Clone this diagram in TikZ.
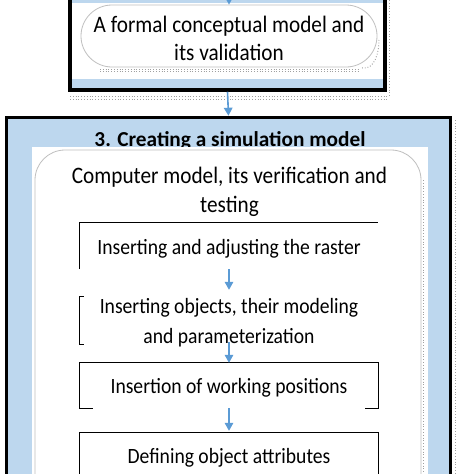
\documentclass[tikz,border=0pt]{standalone}
\usepackage{fontspec}
\setmainfont[FakeStretch=0.9]{Carlito}
\newfontfamily\titlefont{Carlito}
\usetikzlibrary{arrows.meta}
\definecolor{paleblue}{HTML}{BDD7EE}
\definecolor{flowblue}{HTML}{5B9BD5}
\definecolor{pillgray}{HTML}{BFBFBF}
\definecolor{shadowgray}{HTML}{A0A0A0}
\tikzset{
  outerframe/.style={draw=black, line width=3.5pt, fill=paleblue, inner sep=0pt},
  whitepane/.style={fill=white, inner sep=0pt},
  softbox/.style={draw=pillgray, line width=0.8pt, fill=white, inner sep=0pt},
  stepbox/.style={inner sep=0pt, minimum width=298pt},
  stepline/.style={draw=black, line width=1.1pt},
  flow/.style={draw=flowblue, line width=1.6pt, -{Triangle[length=8pt,width=8.5pt]}},
  shadowline/.style={shadowgray, line width=1pt, dash pattern=on 0.8pt off 2pt},
  steptext/.style={font=\fontsize{21.8}{30}\selectfont, align=center, inner sep=0pt},
}
\begin{document}
\begin{tikzpicture}[x=1pt,y=-1pt]
\useasboundingbox (0,0) rectangle (474,474);
\clip (0,0) rectangle (474,474);

% ---- stage 2 frame: formal conceptual model ----
\node (topframe) [outerframe, minimum width=315pt, minimum height=100pt] at (227.5,40) {};
\node (topwhite) [whitepane, minimum width=311pt, minimum height=76pt] at (227.5,41) {};
% soft shadow below and right of the frame
\draw[shadowline] (70,96.5) -- (388,96.5);
\draw[shadowline] (70,99.5) -- (388,99.5);
\draw[shadowline] (389.5,0) -- (389.5,97);
% pill shadow
\draw[shadowline] (100,69) -- (360,69);
\draw[shadowline] (100,71.5) -- (360,71.5);
\draw[shadowline] (362,68) to[out=-10,in=-90] (379,40);
\node (pill) [softbox, rounded corners=31pt, minimum width=296pt, minimum height=62pt] at (229,36) {};
\node (pilltext) [font=\fontsize{23.6}{28}\selectfont, align=center, inner sep=0pt]
  at ([yshift=-2.5pt]pill.center) {A formal conceptual model and\\its validation};

% ---- stage 3 frame: creating a simulation model ----
\node (bigframe) [outerframe, minimum width=444pt, minimum height=420pt] at (228.5,327.5) {};
\node (title) [font=\titlefont\fontsize{21.3}{24}\bfseries\selectfont, inner sep=0pt, anchor=base] at (230,146)
  {3. Creating a simulation model};
\node (bigwhite) [whitepane, minimum width=396pt, minimum height=358pt] at (230,326) {};
% dotted shadows on the right
\draw[shadowline] (455.5,120) -- (455.5,474);
\draw[shadowline] (423,180) -- (423,474);
\node (computer) [softbox, rounded corners=30pt, minimum width=386pt, minimum height=400pt] at (228,350) {};
\node (heading) [font=\fontsize{23.6}{29}\selectfont, align=center, inner sep=0pt] at (229.5,192)
  {Computer model, its verification and\\testing};

% ---- steps of the computer model ----
\node (box1) [stepbox, minimum height=46pt] at (229,246) {};
\node (box2) [stepbox, minimum height=47pt] at (229,320.5) {};
\node (box3) [stepbox, minimum height=45pt] at (229,385.5) {};
\node (box4) [stepbox, minimum height=90pt] at (229,478) {};
\node (box1text) [steptext] at ([yshift=-3pt]box1.center) {Inserting and adjusting the raster};
\node (box2text) [steptext] at ([yshift=-2pt]box2.center) {Inserting objects, their modeling\\and parameterization};
\node (box3text) [steptext] at ([yshift=-2.5pt]box3.center) {Insertion of working positions};
\node (box4text) [steptext] at (229,458) {Defining object attributes};

\draw[stepline] (box1.south west) -- (box1.north west) -- (box1.north east);
\draw[stepline] ([xshift=4pt]box2.north west) -- (box2.north west) -- (box2.south west) -- ([xshift=4pt]box2.south west);
\draw[stepline] ([xshift=13pt]box3.south west) -- (box3.south west) -- (box3.north west)
  -- (box3.north east) -- (box3.south east) -- ([xshift=-13pt]box3.south east);
\draw[stepline] (box4.south west) -- (box4.north west) -- (box4.north east) -- (box4.south east);

% ---- flow arrows ----
\coordinate (entry) at (229,-3);
\draw[flow] (entry) -- (pill.north);
\draw[flow] (topframe.south) -- (bigframe.north);
\draw[flow, shorten >=7pt] (box1.south) -- (box2.north);
\draw[flow, shorten <=-2pt] (box2.south) -- (box3.north);
\draw[flow, shorten >=2pt] (box3.south) -- (box4.north);
\end{tikzpicture}
\end{document}
